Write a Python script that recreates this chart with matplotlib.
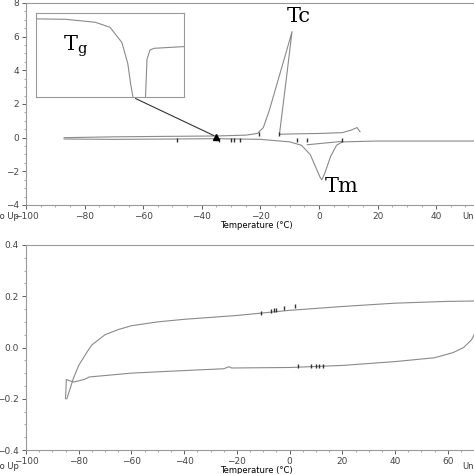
import matplotlib
matplotlib.use("Agg")
import matplotlib.pyplot as plt

GRAY = "#8a8a8a"

# panel A: cooling trace (crystallisation exotherm Tc)
cool_t = [-87, -70, -50, -35, -25, -21, -19, -17, -15, -13, -11, -9.2, -11.5, -13.5, -10, 0, 8, 11, 13, 14]
cool_y = [0.0, 0.05, 0.08, 0.1, 0.15, 0.25, 0.6, 1.6, 2.8, 4.0, 5.2, 6.3, 3.0, 0.2, 0.22, 0.25, 0.3, 0.45, 0.6, 0.35]
# panel A: heating trace (melting endotherm Tm)
heat_t = [-87, -70, -50, -35, -20, -10, -6, -3, -1, 0.5, 1, 2, 4, 6, 8, 20, 40, 60]
heat_y = [-0.08, -0.1, -0.08, -0.06, -0.1, -0.25, -0.45, -1.0, -1.8, -2.4, -2.5, -2.1, -1.1, -0.45, -0.25, -0.2, -0.2, -0.2]
base_t = [-4, 8]
base_y = [-0.42, -0.22]
cool_ticks = [-20.5, -13.5]
heat_ticks = [-48.5, -34, -30, -29, -27, -7.5, -4, 8]

# panel B
up_t = [-84.5, -82, -80, -77, -75, -70, -65, -60, -50, -40, -20, 0, 20, 40, 60, 74]
up_y = [-0.2, -0.12, -0.07, -0.02, 0.01, 0.05, 0.07, 0.085, 0.1, 0.11, 0.125, 0.145, 0.16, 0.173, 0.18, 0.182]
lo_t = [-85, -84.7, -82, -78, -76, -60, -40, -25, -23, -22, 0, 20, 40, 55, 62, 66, 69, 71, 73, 74]
lo_y = [-0.2, -0.125, -0.135, -0.125, -0.115, -0.1, -0.09, -0.083, -0.075, -0.08, -0.078, -0.07, -0.055, -0.04, -0.02, 0.0, 0.03, 0.07, 0.12, 0.17]
up_ticks = [-11, -7, -6, -5, -2, 2]
lo_ticks = [3, 8, 10, 11, 12.5]

fig = plt.figure(figsize=(4.74, 4.74), dpi=100)
axA = fig.add_axes([26 / 474, 1 - 205 / 474, 460 / 474, 202 / 474])
axB = fig.add_axes([26 / 474, 1 - 450 / 474, 460 / 474, 205 / 474])


def style(ax):
    for s in ["left", "bottom", "top"]:
        ax.spines[s].set_color("#999999")
    ax.spines["right"].set_visible(False)
    ax.tick_params(labelsize=6.5, colors="#444444", length=3, width=0.6, pad=2)
    ax.minorticks_on()
    ax.tick_params(which="minor", length=1.5, colors="#999999")
    ax.set_xticks(range(-100, 80, 20))
    ax.set_xlabel("Temperature (°C)", fontsize=6, labelpad=0)


style(axA)
axA.set_xlim(-100, 57)
axA.set_ylim(-4, 8)
axA.set_yticks(range(-4, 9, 2))
axA.plot(cool_t, cool_y, color=GRAY, lw=0.8)
axA.plot(heat_t, heat_y, color=GRAY, lw=0.8)
axA.plot(base_t, base_y, color=GRAY, lw=0.8)
axA.plot(cool_ticks, [0.2] * len(cool_ticks), "|", color="#333", ms=3)
axA.plot(heat_ticks, [-0.12] * len(heat_ticks), "|", color="#333", ms=3)
axA.plot([-35], [0.05], "^", color="black", ms=4)
axA.annotate("", xy=(-35, 0.05), xytext=(-63.5, 2.4),
             arrowprops=dict(arrowstyle="-", color="#333", lw=0.8))
axA.text(-11, 6.9, "Tc", family="serif", fontsize=15)
axA.text(2, -3.25, "Tm", family="serif", fontsize=15)
axA.text(53, -3.6, "A", family="serif", fontsize=14)

# inset with Tg
ins = fig.add_axes([36 / 474, 1 - 97 / 474, 148 / 474, 84 / 474])
ins_a = [0, 20, 40, 50, 58, 62, 64, 65.5]
ins_ay = [9.3, 9.25, 8.9, 8.3, 6.5, 4.0, 1.5, 0]
ins_b = [74, 75, 77, 80, 90, 100]
ins_by = [0, 4.5, 5.6, 5.8, 5.9, 6.0]
ins.plot(ins_a, ins_ay, color=GRAY, lw=0.8)
ins.plot(ins_b, ins_by, color=GRAY, lw=0.8)
ins.set_xlim(0, 100)
ins.set_ylim(0, 10)
ins.set_xticks([])
ins.set_yticks([])
for s in ins.spines.values():
    s.set_color("#999999")
ins.text(18, 5.5, "T$_\\mathregular{g}$", family="serif", fontsize=15)

style(axB)
axB.set_xlim(-100, 74.5)
axB.set_ylim(-0.4, 0.4)
axB.set_yticks([-0.4, -0.2, 0.0, 0.2, 0.4])
axB.plot(up_t, up_y, color=GRAY, lw=0.8)
axB.plot(lo_t, lo_y, color=GRAY, lw=0.8)
axB.plot(up_ticks, [0.135 + 0.004 * (t + 11) / 2 for t in up_ticks], "|", color="#333", ms=3)
axB.plot(lo_ticks, [-0.074] * len(lo_ticks), "|", color="#333", ms=3)
axB.text(71, -0.36, "B", family="serif", fontsize=14)

for y in (1 - 219 / 474, 1 - 469 / 474):
    fig.text(-0.01, y, "ko Up", fontsize=6, color="#333")
    fig.text(0.975, y, "Uni", fontsize=6, color="#333")

fig.savefig("out.png", dpi=100)
